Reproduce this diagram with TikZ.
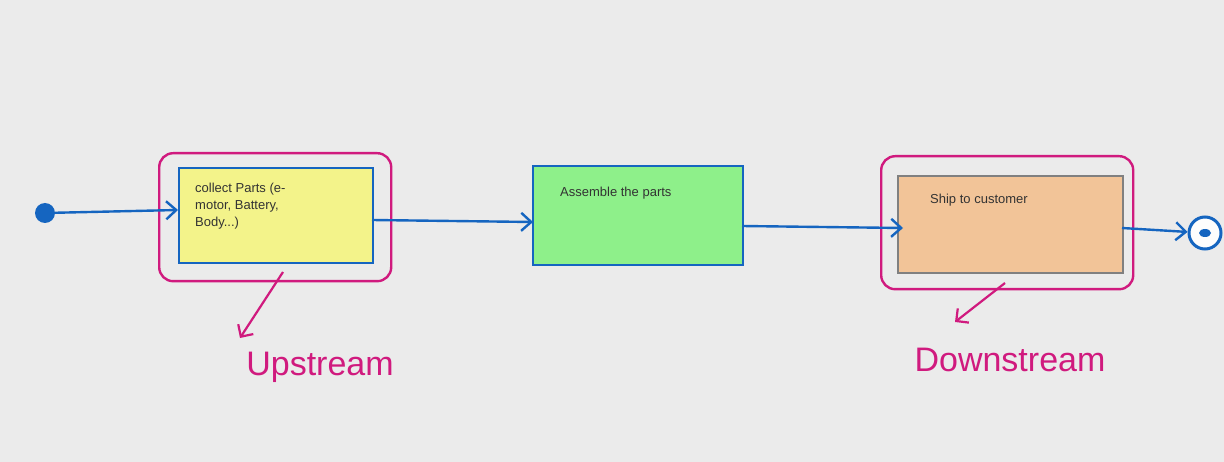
\documentclass[tikz,border=0pt]{standalone}
\usepackage{fontspec}
\setmainfont{Liberation Sans}
\usetikzlibrary{arrows.meta}
\begin{document}
\begin{tikzpicture}[x=1pt,y=-1pt,
  flow/.style={draw=blueC,line width=2.4pt,-{Straight Barb[length=10pt,width=18pt]}},
  stepbox/.style={draw=blueC,line width=2.4pt,anchor=north west,inner sep=0pt},
  group/.style={draw=pinkC,line width=2.4pt,rounded corners=14pt,anchor=north west,inner sep=0pt},
  note/.style={draw=pinkC,line width=2.2pt,-{Straight Barb[length=9pt,width=18pt]}},
  lbl/.style={font=\fontsize{13}{17}\selectfont,text=black!80,align=left,anchor=north west,inner sep=0pt},
  big/.style={font=\fontsize{34}{38}\selectfont,text=pinkC}]
\definecolor{blueC}{HTML}{1565C0}
\definecolor{pinkC}{HTML}{D01A7E}
\definecolor{bg}{HTML}{EBEBEB}
\fill[bg] (0,0) rectangle (1224,462);
\useasboundingbox (0,0) rectangle (1224,462);
\node[group,minimum width=232pt,minimum height=128pt] (g1) at (158,152) {};
\node[group,minimum width=252pt,minimum height=133pt] (g2) at (880,155) {};
\node[stepbox,fill={rgb,255:red,243;green,243;blue,138},minimum width=194pt,minimum height=95pt] (b1) at (178,167) {};
\node[stepbox,fill={rgb,255:red,142;green,240;blue,138},minimum width=210pt,minimum height=99pt] (b2) at (532,165) {};
\node[stepbox,draw=gray,fill={rgb,255:red,242;green,196;blue,152},minimum width=225pt,minimum height=97pt] (b3) at (897,175) {};
\node[lbl] (t1) at (195,183) {collect Parts (e-\\motor, Battery,\\Body...)};
\node[lbl] (t2) at (560,187) {Assemble the parts};
\node[lbl] (t3) at (930,194) {Ship to customer};
\node[circle,fill=blueC,minimum size=20pt,inner sep=0pt] (s) at (45,213) {};
\node[circle,draw=blueC,line width=3pt,fill=white!90!bg,minimum size=32pt,inner sep=0pt] (e) at (1205,233) {};
\fill[blueC] (e.center) ellipse (6pt and 4pt);
\coordinate (a1) at (178,210);
\coordinate (a2o) at (372,220);\coordinate (a2) at (533,222);
\coordinate (a3o) at (742,226);\coordinate (a3) at (903,228);
\coordinate (a4o) at (1122,228);
\draw[flow] (s) -- (a1);
\draw[flow] (a2o) -- (a2);
\draw[flow] (a3o) -- (a3);
\draw[flow] (a4o) -- (e);
\coordinate (p1) at (283,272);\coordinate (q1) at (240,338);
\coordinate (p2) at (1005,283);\coordinate (q2) at (955,322);
\draw[note] (p1) -- (q1);
\draw[note] (p2) -- (q2);
\node[big] (u) at (320,367) {Upstream};
\node[big] (d) at (1010,360) {Downstream};
\end{tikzpicture}
\end{document}
